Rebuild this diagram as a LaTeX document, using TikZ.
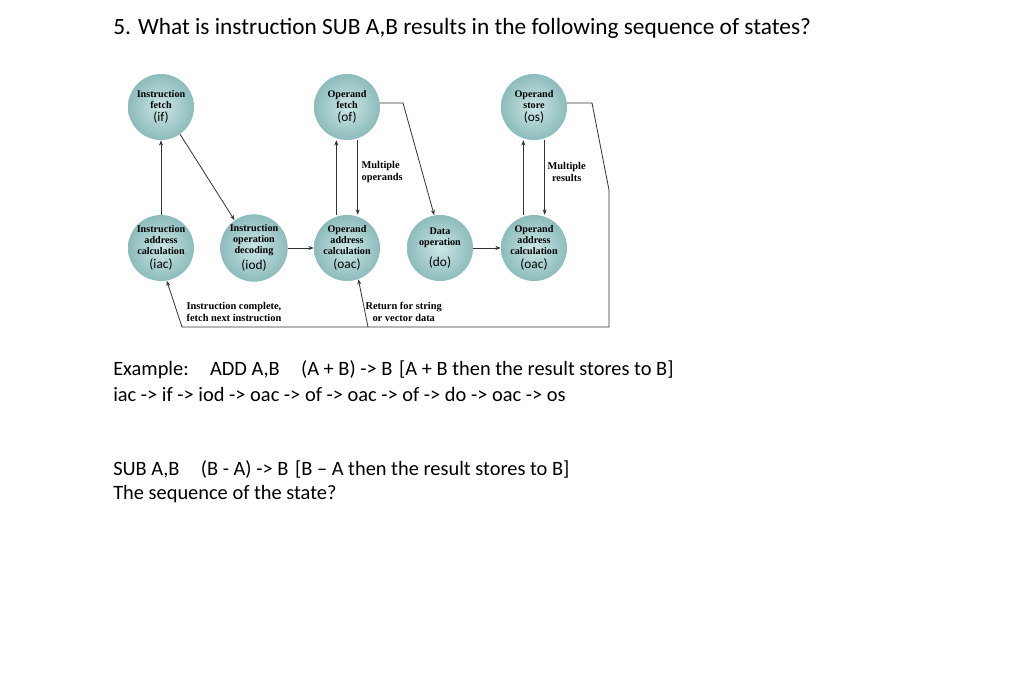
\documentclass[tikz,border=0pt]{standalone}
\usepackage{fontspec}
\setmainfont{Carlito}
\newfontfamily\serifb{Liberation Serif}
\usetikzlibrary{arrows.meta}
\newcommand\ab[1]{{\fontsize{10}{10}\selectfont\normalfont #1}}
\begin{document}
\begin{tikzpicture}[x=0.75pt,y=-0.75pt,
  st/.style={circle,minimum size=66*0.75pt,inner sep=0pt,shading=radial,inner color=white!80!teal,outer color=teal!40!white!92!black,align=center,font=\fontsize{7.6}{8.2}\selectfont\serifb\bfseries},
  cl/.style={font=\fontsize{7.8}{9}\selectfont\serifb\bfseries,align=left,inner sep=1pt},
  ar/.style={-{Stealth[length=4pt,width=3pt]},black!80,semithick},
  tx/.style={anchor=west,font=\fontsize{15.3}{17}\selectfont,inner sep=0pt}]
\useasboundingbox (0,0) rectangle (1011,689);
\fill[white] (0,0) rectangle (1011,689);
\node[tx,font=\fontsize{17.5}{19}\selectfont] (title) at (113,28) {5. What is instruction SUB A,B results in the following sequence of states?};
\node[st] (if) at (161,107) {Instruction\\fetch\\[2pt]\ab{(if)}};
\node[st] (of) at (347,107) {Operand\\fetch\\[2pt]\ab{(of)}};
\node[st] (os) at (534,107) {Operand\\store\\[2pt]\ab{(os)}};
\node[st] (iac) at (161,248) {Instruction\\address\\calculation\\[2pt]\ab{(iac)}};
\node[st] (iod) at (254,248) {Instruction\\operation\\decoding\\[2pt]\ab{(iod)}};
\node[st] (oac1) at (347,248) {Operand\\address\\calculation\\[2pt]\ab{(oac)}};
\node[st] (do) at (440,248) {Data\\operation\\[6pt]\ab{(do)}};
\node[st] (oac2) at (534,248) {Operand\\address\\calculation\\[2pt]\ab{(oac)}};
% arrows
\draw[ar] (iac.north) -- (if.south);
\draw[ar] (if.-55) -- (iod.125);
\draw[ar] (iod.east) -- (oac1.west);
\draw[ar] (do.east) -- (oac2.west);
\draw[ar] ([xshift=-8]oac1.north) -- ([xshift=-8]of.south);
\draw[ar] ([xshift=8]of.south) -- ([xshift=8]oac1.north);
\draw[ar] ([xshift=-8]oac2.north) -- ([xshift=-8]os.south);
\draw[ar] ([xshift=8]os.south) -- ([xshift=8]oac2.north);
\coordinate (c1) at (403,103);
\draw[ar] (of.7) -- (c1) -- (do.100);
\coordinate (c2) at (592,103);
\coordinate (c3) at (609,190);
\coordinate (c4) at (609,327);
\coordinate (c5) at (182,327);
\coordinate (c6) at (368,327);
\draw[ar] (os.7) -- (c2) -- (c3) -- (c4) -- (c5) -- (iac.-80);
\draw[ar] (c6) -- (oac1.-70);
\node[cl,anchor=west] (l1) at (360,172) {Multiple\\operands};
\node[cl,anchor=west,align=center] (l2) at (546,172) {Multiple\\results};
\node[cl,anchor=west] (l3) at (185,312) {Instruction complete,\\fetch next instruction};
\node[cl,anchor=west,align=center] (l4) at (364,312) {Return for string\\or vector data};
\node[tx] (e1) at (113,370) {Example:\hspace{16pt}ADD A,B\hspace{16pt}(A + B) -> B\hspace{5pt}[A + B then the result stores to B]};
\node[tx] (e2) at (113,394) {iac -> if -> iod -> oac -> of -> oac -> of -> do -> oac -> os};
\node[tx] (e3) at (113,469) {SUB A,B\hspace{16pt}(B - A) -> B\hspace{5pt}[B – A then the result stores to B]};
\node[tx] (e4) at (113,494) {The sequence of the state?};
\end{tikzpicture}
\end{document}
